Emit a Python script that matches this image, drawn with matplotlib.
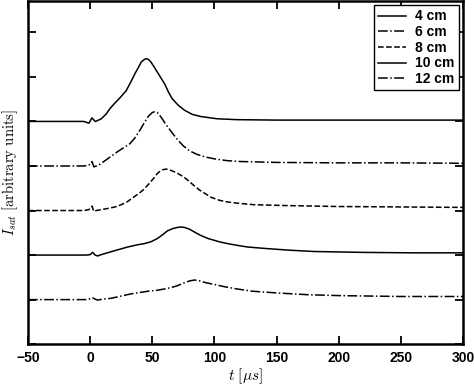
import matplotlib
matplotlib.use("Agg")
import matplotlib.pyplot as plt

# ── data ─────────────────────────────────────────────────────────────────────
labels = ["4 cm", "6 cm", "8 cm", "10 cm", "12 cm"]
offsets = [5, 4, 3, 2, 1]
styles = ["-", "-.", "--", "-", "-."]

t_4 = [-50, -5, -1, 1.5, 4, 6, 9, 13, 16, 19.5, 24, 29, 33, 36, 39, 41, 43, 45,
       47, 49, 52, 56, 60, 63, 66, 71, 76, 82, 89, 102, 118, 150, 200, 250, 300]
v_4 = [0, 0, -0.04, 0.08, 0, 0.02, 0.06, 0.17, 0.29, 0.4, 0.53, 0.69, 0.9, 1.07,
       1.22, 1.33, 1.38, 1.41, 1.39, 1.33, 1.2, 1.02, 0.84, 0.66, 0.51, 0.36,
       0.25, 0.16, 0.11, 0.06, 0.04, 0.03, 0.03, 0.03, 0.03]

t_6 = [-50, -5, -1, 1.5, 3, 5, 8, 12, 17, 22, 27, 32, 36, 40, 44, 47, 50, 52,
       54, 57, 61, 65, 70, 75, 80, 86, 93, 100, 110, 121, 150, 200, 250, 300]
v_6 = [0, 0, 0.02, 0.1, -0.02, 0.0, 0.04, 0.12, 0.22, 0.32, 0.41, 0.5, 0.63,
       0.8, 0.99, 1.12, 1.2, 1.22, 1.2, 1.1, 0.93, 0.78, 0.6, 0.45, 0.34, 0.26,
       0.2, 0.16, 0.12, 0.1, 0.08, 0.07, 0.07, 0.06]

t_8 = [-50, -5, -1, 1.5, 3, 5, 9, 15, 20, 25, 30, 35, 40, 43, 47, 51, 54, 57,
       59, 61, 63, 66, 70, 75, 79, 84, 88, 92, 97, 104, 111, 120, 132, 160, 200,
       250, 300]
v_8 = [0, 0, 0.02, 0.1, -0.02, 0, 0.02, 0.05, 0.08, 0.13, 0.2, 0.3, 0.4, 0.47,
       0.59, 0.72, 0.83, 0.9, 0.92, 0.93, 0.92, 0.89, 0.84, 0.76, 0.67, 0.55,
       0.46, 0.39, 0.3, 0.23, 0.19, 0.16, 0.13, 0.11, 0.09, 0.08, 0.07]

t_10 = [-50, -3, 0, 2, 4, 6, 9, 15, 20, 25, 30, 38, 44, 49, 54, 58, 62, 66, 70,
        73, 76, 80, 85, 89, 95, 100, 105, 112, 120, 127, 140, 160, 180, 220,
        260, 300]
v_10 = [0, 0, 0.01, 0.06, 0.0, -0.02, 0.01, 0.06, 0.1, 0.14, 0.18, 0.23, 0.26,
        0.3, 0.37, 0.45, 0.54, 0.59, 0.62, 0.63, 0.62, 0.58, 0.5, 0.44, 0.37,
        0.33, 0.29, 0.25, 0.21, 0.18, 0.15, 0.11, 0.08, 0.06, 0.05, 0.05]

t_12 = [-50, -3, 0, 2, 4, 6, 10, 17, 25, 33, 40, 47, 54, 60, 65, 70, 75, 80, 84,
        88, 93, 100, 108, 118, 130, 150, 175, 200, 250, 300]
v_12 = [0, 0, 0.02, 0.04, 0.01, -0.01, 0.01, 0.03, 0.08, 0.13, 0.16, 0.19, 0.21,
        0.24, 0.27, 0.31, 0.37, 0.42, 0.44, 0.42, 0.38, 0.34, 0.29, 0.24, 0.19,
        0.15, 0.11, 0.09, 0.07, 0.07]

times = [t_4, t_6, t_8, t_10, t_12]
values = [v_4, v_6, v_8, v_10, v_12]

x_ticks = [-50, 0, 50, 100, 150, 200, 250, 300]
y_ticks = [0, 1, 2, 3, 4, 5, 6, 7]

# ── figure ───────────────────────────────────────────────────────────────────
plt.rcParams["mathtext.fontset"] = "cm"
plt.rcParams["font.family"] = ["Liberation Sans", "DejaVu Sans"]

fig = plt.figure(figsize=(4.74, 3.88), dpi=100)
ax = fig.add_axes([0.059, 0.113, 0.918, 0.884])

for t, v, off, ls, lab in zip(times, values, offsets, styles, labels):
    ax.plot(t, [off + y for y in v], color="black", linestyle=ls,
            linewidth=1.1, label=lab)

ax.set_xlim(-50, 300)
ax.set_ylim(0, 7.7)
ax.set_xticks(x_ticks)
ax.set_yticks(y_ticks)
ax.set_yticklabels([])
ax.tick_params(direction="in", length=6, width=1.3, top=True, right=True,
               labelsize=10, pad=5)
for lbl in ax.get_xticklabels():
    lbl.set_fontweight("bold")
for sp in ax.spines.values():
    sp.set_linewidth(1.8)

ax.set_xlabel(r"$t\ [\mu s]$", fontsize=11, labelpad=1)
ax.set_ylabel(r"$I_{sat}\ [\mathrm{arbitrary\ units}]$", fontsize=10.5,
              labelpad=1)

leg = ax.legend(loc="upper right", fancybox=False, framealpha=1,
                edgecolor="black", prop={"weight": "bold", "size": 10},
                handlelength=2.0, labelspacing=0.12, borderaxespad=0.3,
                borderpad=0.3, handletextpad=0.7)
leg.get_frame().set_linewidth(1.0)

plt.savefig("out.png", dpi=100)
plt.close()
